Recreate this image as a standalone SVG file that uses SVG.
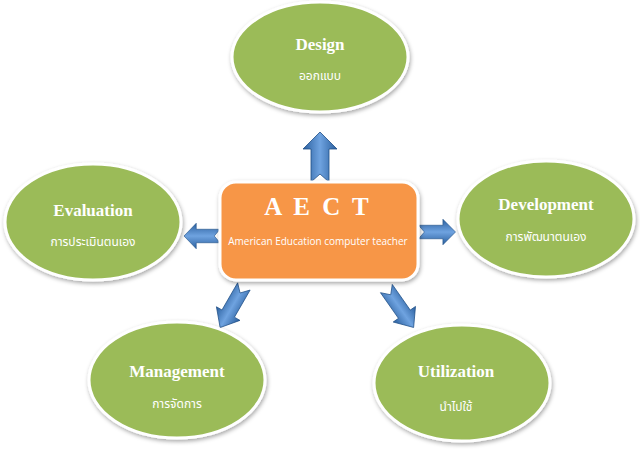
<svg xmlns="http://www.w3.org/2000/svg" width="640" height="465" viewBox="0 0 640 465">
<defs>
<linearGradient id="ag" x1="0" y1="0" x2="1" y2="0"><stop offset="0" stop-color="#2a5f9e"/><stop offset="0.5" stop-color="#6fa3e0"/><stop offset="1" stop-color="#2a5f9e"/></linearGradient>
<filter id="sh" x="-20%" y="-20%" width="140%" height="140%"><feDropShadow dx="1" dy="2" stdDeviation="2" flood-opacity="0.35"/></filter>
<path id="arr" d="M0,-25 L17,-8 L9,-8 L9,25 L0,17 L-9,25 L-9,-8 L-17,-8 Z"/>
</defs>
<style>
.n{fill:#9bbb59;stroke:#fff;stroke-width:3;filter:url(#sh)}
.t{font-family:"Liberation Serif",serif;font-weight:bold;font-size:17px;fill:#fff;text-anchor:middle}
.th{font-family:"Noto Sans Thai","Noto Sans","DejaVu Sans",sans-serif;font-size:12px;fill:#fff;text-anchor:middle}
.a{fill:url(#ag);stroke:#1f4f86;stroke-width:0.8}
</style>
<rect width="640" height="465" fill="#fff"/>
<g id="connectors">
<use href="#arr" class="a" transform="translate(320,157)"/>
<use href="#arr" class="a" transform="translate(202,236) rotate(-90) scale(0.75,0.72)"/>
<use href="#arr" class="a" transform="translate(437,232) rotate(90) scale(0.75,0.74)"/>
<use href="#arr" class="a" transform="translate(232,307) rotate(-150) scale(0.8,0.95)"/>
<use href="#arr" class="a" transform="translate(400,308) rotate(145) scale(0.8,0.95)"/>
</g>
<g id="design"><ellipse class="n" cx="320" cy="57" rx="88" ry="55"/><text class="t" x="320" y="50">Design</text><text class="th" x="320" y="80">ออกแบบ</text></g>
<g id="evaluation"><ellipse class="n" cx="93" cy="222" rx="88" ry="58"/><text class="t" x="93" y="216">Evaluation</text><text class="th" x="93" y="246">การประเมินตนเอง</text></g>
<g id="development"><ellipse class="n" cx="546" cy="219" rx="88" ry="58"/><text class="t" x="546" y="210">Development</text><text class="th" x="546" y="241">การพัฒนาตนเอง</text></g>
<g id="management"><ellipse class="n" cx="177" cy="380" rx="88" ry="58"/><text class="t" x="177" y="377">Management</text><text class="th" x="177" y="408">การจัดการ</text></g>
<g id="utilization"><ellipse class="n" cx="462" cy="383" rx="88" ry="58"/><text class="t" x="456" y="377">Utilization</text><text class="th" x="456" y="411">นำไปใช้</text></g>
<g id="aect"><rect x="220" y="182" width="198" height="98" rx="16" fill="#f79646" stroke="#fff" stroke-width="3" filter="url(#sh)"/>
<text x="318" y="215" style="font-family:'Liberation Serif',serif;font-weight:bold;font-size:25px;fill:#fff;text-anchor:middle;letter-spacing:3px">A E C T</text>
<text x="318" y="245" style="font-family:'Open Sans','Liberation Sans',sans-serif;font-size:10px;fill:#fff;text-anchor:middle">American Education computer teacher</text></g>
</svg>
